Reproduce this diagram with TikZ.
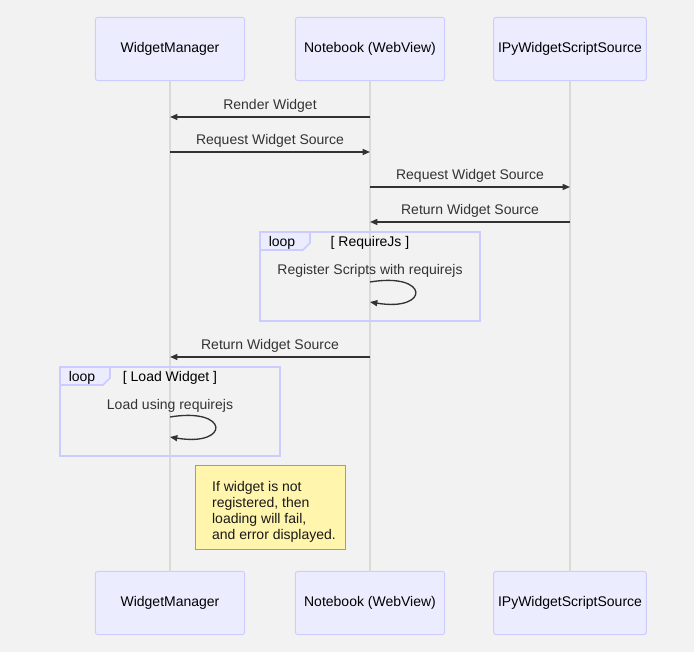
\documentclass[tikz,border=0pt]{standalone}
\usepackage{fontspec}
\setmainfont{Liberation Sans}
\usetikzlibrary{arrows.meta}
\definecolor{fond}{RGB}{242,242,242}
\definecolor{acteur}{RGB}{236,236,255}
\definecolor{bordacteur}{RGB}{204,204,255}
\definecolor{vie}{RGB}{218,218,218}
\definecolor{trait}{RGB}{51,51,51}
\definecolor{jaune}{RGB}{255,245,173}
\definecolor{bordjaune}{RGB}{170,170,51}
\tikzset{
  actor/.style={draw=bordacteur,fill=acteur,line width=0.75pt,rounded corners=2pt,
    minimum width=112pt,minimum height=47.5pt,font=\fontsize{10.5}{12}\selectfont},
  lifeline/.style={draw=vie,line width=1pt},
  msg/.style={draw=trait,line width=1pt,-{Triangle[length=5.5pt,width=4.5pt]}},
  msglabel/.style={text=trait,midway,above=-0.5pt,font=\fontsize{10.5}{12}\selectfont},
  selflabel/.style={text=trait,font=\fontsize{10.5}{12}\selectfont},
  loopbox/.style={draw=bordacteur,line width=1.2pt},
  looptab/.style={draw=bordacteur,fill=acteur,line width=1.2pt},
  looptext/.style={text=black,font=\fontsize{10.5}{12}\selectfont},
  notebox/.style={draw=bordjaune,fill=jaune,line width=0.75pt},
  notetext/.style={align=left,text=black!90,font=\fontsize{10.5}{12}\selectfont}
}
\begin{document}
\begin{tikzpicture}[x=0.75pt,y=-0.75pt]
\fill[fond] (0,0) rectangle (694,652);
\useasboundingbox (0,0) rectangle (694,652);
% Actors
\node[actor] (wmtop) at (170,49) {WidgetManager};
\node[actor] (nbtop) at (370,49) {Notebook (WebView)};
\node[actor] (sstop) at (570,49) {IPyWidgetScriptSource};
\node[actor] (wmbot) at (170,603) {WidgetManager};
\node[actor] (nbbot) at (370,603) {Notebook (WebView)};
\node[actor] (ssbot) at (570,603) {IPyWidgetScriptSource};
% Lifelines
\draw[lifeline] (wmtop) -- (wmbot);
\draw[lifeline] (nbtop) -- (nbbot);
\draw[lifeline] (sstop) -- (ssbot);
% Render Widget
\coordinate (nb1) at (370,117);
\coordinate (wm1) at (170,117);
\draw[msg] (nb1) -- node[msglabel]{Render Widget} (wm1);
% Request Widget Source
\coordinate (wm2) at (170,152);
\coordinate (nb2) at (370,152);
\draw[msg] (wm2) -- node[msglabel]{Request Widget Source} (nb2);
\coordinate (nb3) at (370,187);
\coordinate (ss3) at (570,187);
\draw[msg] (nb3) -- node[msglabel]{Request Widget Source} (ss3);
% Return Widget Source
\coordinate (ss4) at (570,222);
\coordinate (nb4) at (370,222);
\draw[msg] (ss4) -- node[msglabel]{Return Widget Source} (nb4);
% Loop RequireJs
\draw[loopbox] (260,232) rectangle (480,321);
\draw[looptab] (260,232) -- (310,232) -- (310,243) -- (303,250) -- (260,250) -- cycle;
\node[looptext] (loop1) at (282,243) {loop};
\node[looptext] (cond1) at (370,243) {[ RequireJs ]};
\node[selflabel] (reg) at (370,271) {Register Scripts with requirejs};
\coordinate (nb5a) at (370,282);
\coordinate (nb5b) at (370,302);
\draw[msg] (nb5a) .. controls (430,272) and (430,312) .. (nb5b);
% Return Widget Source
\coordinate (nb6) at (370,357);
\coordinate (wm6) at (170,357);
\draw[msg] (nb6) -- node[msglabel]{Return Widget Source} (wm6);
% Loop Load Widget
\draw[loopbox] (60,367) rectangle (280,456);
\draw[looptab] (60,367) -- (110,367) -- (110,378) -- (103,385) -- (60,385) -- cycle;
\node[looptext] (loop2) at (82,378) {loop};
\node[looptext] (cond2) at (170,378) {[ Load Widget ]};
\node[selflabel] (load) at (170,406) {Load using requirejs};
\coordinate (wm7a) at (170,417);
\coordinate (wm7b) at (170,437);
\draw[msg] (wm7a) .. controls (230,407) and (230,447) .. (wm7b);
% Note
\draw[notebox] (195,466) rectangle (345,550);
\node[notetext] (remarque) at (274,512) {If widget is not\\registered, then\\loading will fail,\\and error displayed.};
\end{tikzpicture}
\end{document}
